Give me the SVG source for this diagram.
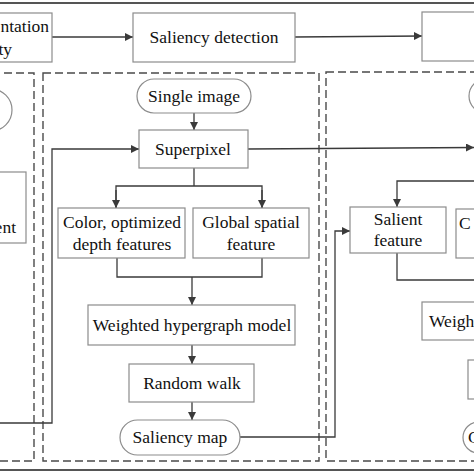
<svg xmlns="http://www.w3.org/2000/svg" width="474" height="474" viewBox="0 0 474 474">
<defs>
<marker id="ah" viewBox="0 0 10 10" refX="10" refY="5" markerWidth="9" markerHeight="8" markerUnits="userSpaceOnUse" orient="auto">
<path d="M0,0 L10,5 L0,10 Z" fill="#3a3a3a"/>
</marker>
<style>
.box{fill:#fff;stroke:#8c8c8c;stroke-width:1.2}
.dash{fill:none;stroke:#4a4a4a;stroke-width:1.4;stroke-dasharray:8 4}
.con{fill:none;stroke:#3a3a3a;stroke-width:1.3}
.t{font-family:"Liberation Serif","Times New Roman",serif;font-size:17.5px;fill:#111;text-anchor:middle}
.border{stroke:#555;stroke-width:2.2}
</style>
</defs>
<rect width="474" height="474" fill="#fff"/>
<line class="border" x1="0" y1="3" x2="474" y2="3"/>
<line class="border" x1="0" y1="470" x2="474" y2="470"/>

<g id="panels">
<rect class="dash" x="-20" y="73" width="54" height="388"/>
<rect class="dash" x="43" y="73" width="276" height="388"/>
<rect class="dash" x="326" y="72" width="170" height="389"/>
</g>

<g id="connectors">
<line class="con" x1="52" y1="37" x2="133" y2="37" marker-end="url(#ah)"/>
<line class="con" x1="295" y1="37" x2="422" y2="36" marker-end="url(#ah)"/>
<polyline class="con" points="0,423 52,423 52,149 139,149" marker-end="url(#ah)"/>
<line class="con" x1="194" y1="113" x2="194" y2="130" marker-end="url(#ah)"/>
<line class="con" x1="248" y1="149" x2="474" y2="147.5" marker-end="url(#ah)"/>
<polyline class="con" points="194,168 194,186"/>
<polyline class="con" points="116,208 116,186 262,186 262,208"/>
<line class="con" x1="116" y1="190" x2="116" y2="208" marker-end="url(#ah)"/>
<line class="con" x1="262" y1="190" x2="262" y2="208" marker-end="url(#ah)"/>
<polyline class="con" points="117,258 117,277 262,277 262,258"/>
<line class="con" x1="192" y1="277" x2="192" y2="305" marker-end="url(#ah)"/>
<line class="con" x1="192" y1="345" x2="192" y2="364" marker-end="url(#ah)"/>
<line class="con" x1="192" y1="402" x2="192" y2="420" marker-end="url(#ah)"/>
<polyline class="con" points="240,437 335,437 335,231 350,231" marker-end="url(#ah)"/>
<polyline class="con" points="474,181 397,181 397,207" marker-end="url(#ah)"/>
<polyline class="con" points="397,253 397,280 474,280"/>
</g>

<g id="n-seg">
<rect class="box" x="-30" y="13" width="82" height="49"/>
<text class="t" x="49" y="32" style="text-anchor:end">ntation</text>
<text class="t" x="12" y="55" style="text-anchor:end">ty</text>
</g>
<g id="n-saliency-detection">
<rect class="box" x="133" y="13" width="162" height="49"/>
<text class="t" x="214" y="43">Saliency detection</text>
</g>
<g id="n-right-top">
<rect class="box" x="422" y="12" width="80" height="49"/>
</g>

<g id="n-left-oval">
<rect class="box" x="-80" y="89" width="92" height="42" rx="21"/>
</g>
<g id="n-left-box">
<rect class="box" x="-30" y="172" width="56" height="71"/>
<text class="t" x="16" y="233" style="text-anchor:end">ent</text>
</g>

<g id="n-single-image">
<rect class="box" x="137" y="79" width="114" height="34" rx="17"/>
<text class="t" x="194" y="102">Single image</text>
</g>
<g id="n-superpixel">
<rect class="box" x="139" y="130" width="109" height="38"/>
<text class="t" x="193" y="155">Superpixel</text>
</g>
<g id="n-color">
<rect class="box" x="58" y="208" width="127" height="50"/>
<text class="t" x="122" y="228">Color, optimized</text>
<text class="t" x="122" y="250">depth features</text>
</g>
<g id="n-global">
<rect class="box" x="193" y="208" width="116" height="50"/>
<text class="t" x="251" y="228">Global spatial</text>
<text class="t" x="251" y="250">feature</text>
</g>
<g id="n-hypergraph">
<rect class="box" x="88" y="305" width="207" height="40"/>
<text class="t" x="192" y="331">Weighted hypergraph model</text>
</g>
<g id="n-random-walk">
<rect class="box" x="129" y="364" width="125" height="38"/>
<text class="t" x="192" y="389">Random walk</text>
</g>
<g id="n-saliency-map">
<rect class="box" x="120" y="420" width="120" height="35" rx="17.5"/>
<text class="t" x="180" y="443">Saliency map</text>
</g>

<g id="n-right-oval">
<rect class="box" x="469" y="79" width="80" height="34" rx="17"/>
</g>
<g id="n-salient">
<rect class="box" x="350" y="207" width="96" height="46"/>
<text class="t" x="398" y="225">Salient</text>
<text class="t" x="398" y="246">feature</text>
</g>
<g id="n-right-c">
<rect class="box" x="456" y="209" width="60" height="49"/>
<text class="t" x="459" y="229" style="text-anchor:start">C</text>
</g>
<g id="n-right-weighted">
<rect class="box" x="422" y="302" width="80" height="38"/>
<text class="t" x="429" y="327" style="text-anchor:start">Weigh</text>
</g>
<g id="n-right-box2">
<rect class="box" x="468" y="360" width="40" height="39"/>
</g>
<g id="n-right-oval2">
<rect class="box" x="463" y="422" width="60" height="31" rx="15.5"/>
<text class="t" x="468" y="443" style="text-anchor:start">C</text>
</g>
</svg>
